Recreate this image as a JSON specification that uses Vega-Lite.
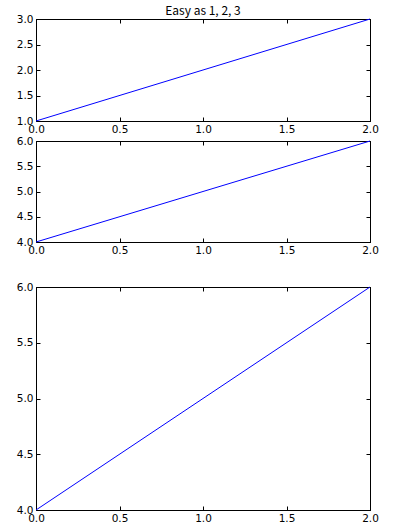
{
  "$schema": "https://vega.github.io/schema/vega-lite/v6.json",
  "background": "white",
  "padding": {"left": 15, "top": 4, "right": 20, "bottom": 5},
  "datasets": {
    "top": [{"x": 0, "y": 1}, {"x": 2, "y": 3}],
    "middle": [{"x": 0, "y": 4}, {"x": 2, "y": 6}],
    "bottom": [{"x": 0, "y": 4}, {"x": 2, "y": 6}]
  },
  "config": {
    "view": {"stroke": "black", "strokeWidth": 1},
    "axis": {
      "grid": false,
      "title": null,
      "domainColor": "black",
      "tickColor": "black",
      "tickSize": -4,
      "labelPadding": 7,
      "labelFont": "DejaVu Sans",
      "labelFontSize": 10.5,
      "labelColor": "black",
      "labelFlush": false,
      "labelOverlap": false
    },
    "title": {"font": "Noto Sans CJK JP", "fontSize": 12, "fontWeight": "normal", "color": "black", "offset": -4}
  },
  "vconcat": [
    {
      "vconcat": [
        {
          "title": "Easy as 1, 2, 3",
          "width": 334,
          "height": 102,
          "data": {"name": "top"},
          "layer": [
            {
              "mark": {"type": "line", "color": "#0000ff", "strokeWidth": 1},
              "encoding": {
                "x": {"field": "x", "type": "quantitative", "scale": {"domain": [0, 2], "nice": false}, "axis": {"values": [0, 0.5, 1, 1.5, 2], "format": ".1f"}},
                "y": {"field": "y", "type": "quantitative", "scale": {"domain": [1, 3], "nice": false, "zero": false}, "axis": {"values": [1, 1.5, 2, 2.5, 3], "format": ".1f"}}
              }
            },
            {
              "mark": {"type": "line", "opacity": 0},
              "encoding": {
                "x": {"field": "x", "type": "quantitative", "axis": {"orient": "top", "values": [0, 0.5, 1, 1.5, 2], "labels": false}},
                "y": {"field": "y", "type": "quantitative", "axis": {"orient": "right", "values": [1, 1.5, 2, 2.5, 3], "labels": false}}
              }
            }
          ],
          "resolve": {"axis": {"x": "independent", "y": "independent"}}
        },
        {
          "width": 334,
          "height": 101,
          "data": {"name": "middle"},
          "layer": [
            {
              "mark": {"type": "line", "color": "#0000ff", "strokeWidth": 1},
              "encoding": {
                "x": {"field": "x", "type": "quantitative", "scale": {"domain": [0, 2], "nice": false}, "axis": {"values": [0, 0.5, 1, 1.5, 2], "format": ".1f"}},
                "y": {"field": "y", "type": "quantitative", "scale": {"domain": [4, 6], "nice": false, "zero": false}, "axis": {"values": [4, 4.5, 5, 5.5, 6], "format": ".1f"}}
              }
            },
            {
              "mark": {"type": "line", "opacity": 0},
              "encoding": {
                "x": {"field": "x", "type": "quantitative", "axis": {"orient": "top", "values": [0, 0.5, 1, 1.5, 2], "labels": false}},
                "y": {"field": "y", "type": "quantitative", "axis": {"orient": "right", "values": [4, 4.5, 5, 5.5, 6], "labels": false}}
              }
            }
          ],
          "resolve": {"axis": {"x": "independent", "y": "independent"}}
        }
      ],
      "spacing": 0
    },
    {
      "width": 334,
      "height": 223,
      "data": {"name": "bottom"},
      "layer": [
        {
          "mark": {"type": "line", "color": "#0000ff", "strokeWidth": 1},
          "encoding": {
            "x": {"field": "x", "type": "quantitative", "scale": {"domain": [0, 2], "nice": false}, "axis": {"values": [0, 0.5, 1, 1.5, 2], "format": ".1f"}},
            "y": {"field": "y", "type": "quantitative", "scale": {"domain": [4, 6], "nice": false, "zero": false}, "axis": {"values": [4, 4.5, 5, 5.5, 6], "format": ".1f"}}
          }
        },
        {
          "mark": {"type": "line", "opacity": 0},
          "encoding": {
            "x": {"field": "x", "type": "quantitative", "axis": {"orient": "top", "values": [0, 0.5, 1, 1.5, 2], "labels": false}},
            "y": {"field": "y", "type": "quantitative", "axis": {"orient": "right", "values": [4, 4.5, 5, 5.5, 6], "labels": false}}
          }
        }
      ],
      "resolve": {"axis": {"x": "independent", "y": "independent"}}
    }
  ],
  "spacing": 25
}
